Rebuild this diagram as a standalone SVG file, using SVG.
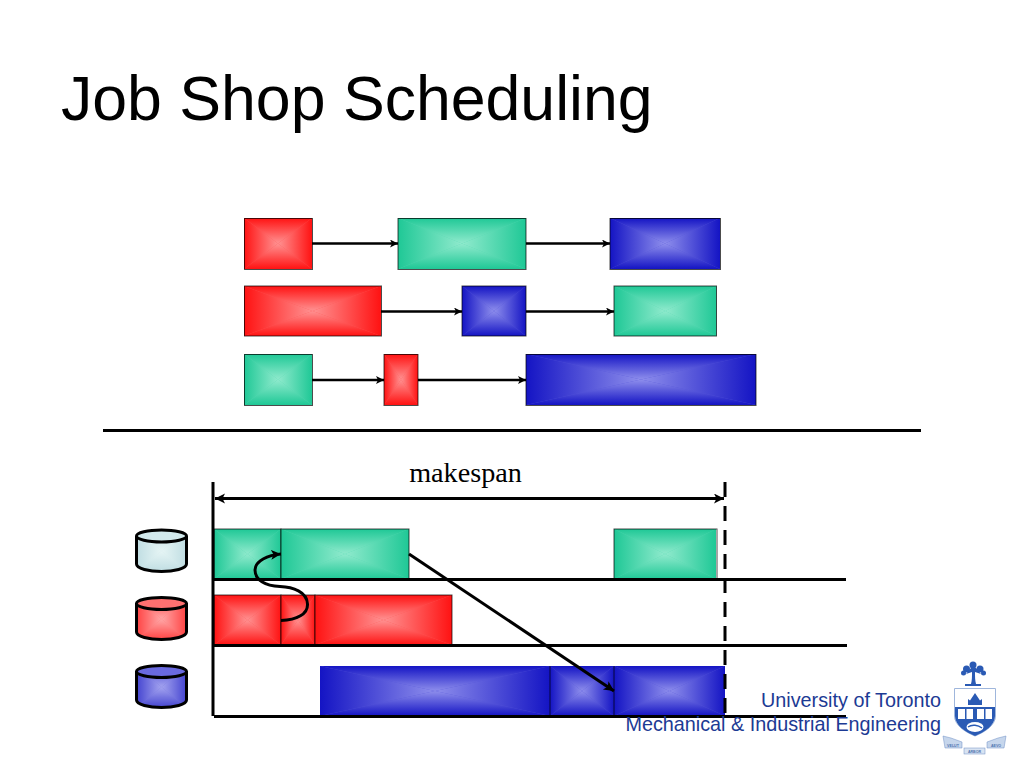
<svg xmlns="http://www.w3.org/2000/svg" width="1024" height="768" viewBox="0 0 1024 768">
<style>
.l{stroke:#000;fill:none}
.t{stroke:#000;stroke-width:2.500;fill:none}
.b{stroke:#000;stroke-opacity:.7;stroke-width:1;fill:none}
.hd{stroke:#000;stroke-width:3;fill:none}
.cy{stroke:#000;stroke-width:3;fill:none}
.ce{stroke:#000;stroke-width:3}
.wash{fill:#fff;opacity:.2}
text{font-family:"Liberation Sans",Arial,sans-serif}
.uni{font-size:19.800px;fill:#1c3a94;text-anchor:end}
.logo{fill:#2a5ab4}
.lt{font-size:3.600px;fill:#4f74b0;text-anchor:middle;font-weight:bold}
.rE{stop-color:#ff1212}.rC{stop-color:#ff9292}
.gE{stop-color:#1fc896}.gC{stop-color:#90eacd}
.bE{stop-color:#1414c4}.bC{stop-color:#8e8eec}
.cE{stop-color:#bfdde2}.cC{stop-color:#e6f5f5}
.m{stop-opacity:1}
</style>
<defs>
<marker id="a" markerUnits="userSpaceOnUse" markerWidth="10" markerHeight="10" refX="8" refY="4" orient="auto"><path d="M0 0L8 4L0 8L2 4Z" fill="#000"/></marker>
<marker id="a2" markerUnits="userSpaceOnUse" markerWidth="12" markerHeight="12" refX="10" refY="5" orient="auto-start-reverse"><path d="M0 0L10 5L0 10L2.500 5Z" fill="#000"/></marker>

<linearGradient id="rT" x1="0" y1="0" x2="0" y2="1"><stop offset="0" class="rE"/><stop offset="1" class="rC"/></linearGradient>
<linearGradient id="rB" x1="0" y1="1" x2="0" y2="0"><stop offset="0" class="rE"/><stop offset="1" class="rC"/></linearGradient>
<linearGradient id="rL" x1="0" y1="0" x2="1" y2="0"><stop offset="0" class="rE"/><stop offset="1" class="rC"/></linearGradient>
<linearGradient id="rR" x1="1" y1="0" x2="0" y2="0"><stop offset="0" class="rE"/><stop offset="1" class="rC"/></linearGradient>

<linearGradient id="gT" x1="0" y1="0" x2="0" y2="1"><stop offset="0" class="gE"/><stop offset="1" class="gC"/></linearGradient>
<linearGradient id="gB" x1="0" y1="1" x2="0" y2="0"><stop offset="0" class="gE"/><stop offset="1" class="gC"/></linearGradient>
<linearGradient id="gL" x1="0" y1="0" x2="1" y2="0"><stop offset="0" class="gE"/><stop offset="1" class="gC"/></linearGradient>
<linearGradient id="gR" x1="1" y1="0" x2="0" y2="0"><stop offset="0" class="gE"/><stop offset="1" class="gC"/></linearGradient>

<linearGradient id="bT" x1="0" y1="0" x2="0" y2="1"><stop offset="0" class="bE"/><stop offset="1" class="bC"/></linearGradient>
<linearGradient id="bB" x1="0" y1="1" x2="0" y2="0"><stop offset="0" class="bE"/><stop offset="1" class="bC"/></linearGradient>
<linearGradient id="bL" x1="0" y1="0" x2="1" y2="0"><stop offset="0" class="bE"/><stop offset="1" class="bC"/></linearGradient>
<linearGradient id="bR" x1="1" y1="0" x2="0" y2="0"><stop offset="0" class="bE"/><stop offset="1" class="bC"/></linearGradient>

<linearGradient id="cT" x1="0" y1="0" x2="0" y2="1"><stop offset="0" class="cE"/><stop offset="1" class="cC"/></linearGradient>
<linearGradient id="cB" x1="0" y1="1" x2="0" y2="0"><stop offset="0" class="cE"/><stop offset="1" class="cC"/></linearGradient>
<linearGradient id="cL" x1="0" y1="0" x2="1" y2="0"><stop offset="0" class="cE"/><stop offset="1" class="cC"/></linearGradient>
<linearGradient id="cR" x1="1" y1="0" x2="0" y2="0"><stop offset="0" class="cE"/><stop offset="1" class="cC"/></linearGradient>

<symbol id="R" viewBox="0 0 100 100" preserveAspectRatio="none"><rect width="100" height="100" fill="#ff5050"/><polygon points="0,0 100,0 50,50" fill="url(#rT)"/><polygon points="0,100 100,100 50,50" fill="url(#rB)"/><polygon points="0,0 0,100 50,50" fill="url(#rL)"/><polygon points="100,0 100,100 50,50" fill="url(#rR)"/></symbol>
<symbol id="G" viewBox="0 0 100 100" preserveAspectRatio="none"><rect width="100" height="100" fill="#50d8b0"/><polygon points="0,0 100,0 50,50" fill="url(#gT)"/><polygon points="0,100 100,100 50,50" fill="url(#gB)"/><polygon points="0,0 0,100 50,50" fill="url(#gL)"/><polygon points="100,0 100,100 50,50" fill="url(#gR)"/></symbol>
<symbol id="B" viewBox="0 0 100 100" preserveAspectRatio="none"><rect width="100" height="100" fill="#5050d8"/><polygon points="0,0 100,0 50,50" fill="url(#bT)"/><polygon points="0,100 100,100 50,50" fill="url(#bB)"/><polygon points="0,0 0,100 50,50" fill="url(#bL)"/><polygon points="100,0 100,100 50,50" fill="url(#bR)"/></symbol>
<symbol id="C" viewBox="0 0 100 100" preserveAspectRatio="none"><rect width="100" height="100" fill="#d2e9ec"/><polygon points="0,0 100,0 50,50" fill="url(#cT)"/><polygon points="0,100 100,100 50,50" fill="url(#cB)"/><polygon points="0,0 0,100 50,50" fill="url(#cL)"/><polygon points="100,0 100,100 50,50" fill="url(#cR)"/></symbol>

<clipPath id="cy1"><path d="M136.500 536V564C136.500 568.500 149 571.500 161.500 571.500C174 571.500 186.500 568.500 186.500 564V536Z"/></clipPath>
<clipPath id="cy2"><path d="M136.500 603V632C136.500 636.500 149 639.500 161.500 639.500C174 639.500 186.500 636.500 186.500 632V603Z"/></clipPath>
<clipPath id="cy3"><path d="M136.500 671V700C136.500 704.500 149 707.500 161.500 707.500C174 707.500 186.500 704.500 186.500 700V671Z"/></clipPath>
</defs>

<text id="title" x="61" y="120" font-size="62.600" fill="#000">Job Shop Scheduling</text>

<g id="job-1-red"><use href="#R" x="244" y="218" width="68" height="51"/><rect class="b" x="244.500" y="218.500" width="68" height="51"/></g>
<g id="job-1-green"><use href="#G" x="398" y="218" width="128" height="51"/><rect class="b" x="398" y="218.500" width="128" height="51"/></g>
<g id="job-1-blue"><use href="#B" x="610" y="218" width="110" height="51"/><rect class="b" x="610" y="218.500" width="110.500" height="51"/></g>
<g id="job-2-red"><use href="#R" x="244" y="286" width="137" height="50"/><rect class="b" x="244.500" y="286" width="137" height="50"/></g>
<g id="job-2-blue"><use href="#B" x="462" y="286" width="64" height="50"/><rect class="b" x="462" y="286" width="64" height="50"/></g>
<g id="job-2-green"><use href="#G" x="614" y="286" width="102.500" height="50"/><rect class="b" x="614" y="286" width="102.500" height="50"/></g>
<g id="job-3-green"><use href="#G" x="244" y="354" width="68" height="51"/><rect class="b" x="244.500" y="354.500" width="68" height="51"/></g>
<g id="job-3-red"><use href="#R" x="384" y="354" width="34" height="51"/><rect class="b" x="384" y="354.500" width="34" height="51"/></g>
<g id="job-3-blue"><use href="#B" x="526" y="354" width="230" height="51"/><rect class="b" x="526" y="354.500" width="230" height="51"/></g>

<g id="sep"><path d="M103 430.500H921" class="hd"/></g>
<text id="makespan" x="465.500" y="482" font-size="28.200" text-anchor="middle" style="font-family:'Liberation Serif','Times New Roman',serif">makespan</text>

<g id="m1-1"><use href="#G" x="214" y="529" width="67" height="50"/><rect class="b" x="214" y="529" width="67" height="50"/></g>
<g id="m1-2"><use href="#G" x="281" y="529" width="128" height="50"/><rect class="b" x="281" y="529" width="128" height="50"/></g>
<g id="m1-3"><use href="#G" x="614" y="529" width="102" height="50"/><rect class="b" x="614" y="529" width="103" height="50"/></g>
<g id="m2-1"><use href="#R" x="214" y="595" width="67" height="50"/><rect class="b" x="214" y="595" width="67" height="50"/></g>
<g id="m2-2"><use href="#R" x="281" y="595" width="34" height="50"/><rect class="b" x="281" y="595" width="34" height="50"/></g>
<g id="m2-3"><use href="#R" x="315" y="595" width="137" height="50"/><rect class="b" x="315" y="595" width="137" height="50"/></g>
<g id="m3-1"><use href="#B" x="320" y="666" width="230" height="50"/></g>
<g id="m3-2"><use href="#B" x="550" y="666" width="64" height="50"/><path class="b" d="M550 666V716"/></g>
<g id="m3-3"><use href="#B" x="614" y="666" width="111" height="50"/><path class="b" d="M614 666V716"/></g>

<g id="cyl-1"><g clip-path="url(#cy1)"><use href="#C" x="136" y="530" width="51" height="42"/></g><path class="cy" d="M136.500 536V564C136.500 568.500 149 571.500 161.500 571.500C174 571.500 186.500 568.500 186.500 564V536"/><ellipse class="ce" cx="161.500" cy="536" rx="25" ry="6" fill="#d2e9ec"/></g>
<g id="cyl-2"><g clip-path="url(#cy2)"><use href="#R" x="136" y="598" width="51" height="42"/><rect class="wash" x="136" y="598" width="51" height="42"/></g><path class="cy" d="M136.500 603V632C136.500 636.500 149 639.500 161.500 639.500C174 639.500 186.500 636.500 186.500 632V603"/><ellipse class="ce" cx="161.500" cy="603.500" rx="25" ry="6" fill="#ff7070"/></g>
<g id="cyl-3"><g clip-path="url(#cy3)"><use href="#B" x="136" y="666" width="51" height="42"/><rect class="wash" x="136" y="666" width="51" height="42"/></g><path class="cy" d="M136.500 671V700C136.500 704.500 149 707.500 161.500 707.500C174 707.500 186.500 704.500 186.500 700V671"/><ellipse class="ce" cx="161.500" cy="671.500" rx="25" ry="6" fill="#6a6ae0"/></g>

<g id="connectors">
<path class="t" d="M312 243.500H398" marker-end="url(#a)"/>
<path class="t" d="M526 243.500H610" marker-end="url(#a)"/>
<path class="t" d="M381 311.500H462" marker-end="url(#a)"/>
<path class="t" d="M526 311.500H614" marker-end="url(#a)"/>
<path class="t" d="M312 380H384" marker-end="url(#a)"/>
<path class="t" d="M418 380H526" marker-end="url(#a)"/>
<path class="hd" d="M215 498.500H724" marker-start="url(#a2)" marker-end="url(#a2)"/>
<path class="hd" d="M213 482V716"/>
<path class="hd" d="M214 579.500H846"/>
<path class="hd" d="M214 645.500H847"/>
<path class="hd" d="M214 716.500H846"/>
<path class="hd" d="M725 482V716" stroke-dasharray="15 9"/>
<path class="hd" d="M409 554L614 691" marker-end="url(#a2)"/>
<path class="hd" d="M281 620.500C297 620 308 614 307.500 604C307 592 293 587 280 586.500C265 586 255 580 255 570C255 561 268 555 281 554" marker-end="url(#a2)"/>
</g>

<text class="uni" x="941" y="707">University of Toronto</text>
<text class="uni" x="941" y="731">Mechanical &amp; Industrial Engineering</text>

<g id="logo">
<circle class="logo" cx="973" cy="665" r="3.500"/><circle class="logo" cx="966.500" cy="669" r="3.500"/><circle class="logo" cx="980" cy="669" r="3.500"/><circle class="logo" cx="963.500" cy="673" r="2.500"/><circle class="logo" cx="983.500" cy="673" r="2.500"/>
<path class="logo" d="M971 684C972 680 972 677 972 672L966 674L971 668H976L981 674L975 672C975 677 975 680 976 684H981V686H965V684Z"/>
<path d="M954.500 688.500H995.500V716C995.500 725 985 732 975 736C965 732 954.500 725 954.500 716Z" fill="#fff" stroke="#9fb6dc" stroke-width="1"/>
<path class="logo" d="M955 707H995V716C995 725 985 732 975 736C965 732 955 725 955 716Z"/>
<path class="logo" d="M968 705V699L970 700.500L975 693L980 700.500L982 699V705Z"/>
<path d="M958 709H973V719H958ZM977 709H992V719H977Z" fill="#fff"/>
<path class="logo" d="M965 709h1.500v10h-1.500zM984 709h1.500v10h-1.500z"/>
<ellipse cx="975" cy="727" rx="8.500" ry="5" fill="#fff"/>
<path d="M968 727C972 724 978 725 982 728" fill="none" stroke="#2a5ab4" stroke-width="1.500"/>
<path d="M943 736L951 738L962 742V748H945Z" fill="#c6d6ec" stroke="#6f8fc4" stroke-width=".5"/>
<path d="M1006 736L998 738L987 742V748H1004Z" fill="#c6d6ec" stroke="#6f8fc4" stroke-width=".5"/>
<rect x="964" y="748" width="21" height="6" fill="#d8e3f2" stroke="#6f8fc4" stroke-width=".5"/>
<text class="lt" x="953" y="746.500">VELUT</text>
<text class="lt" x="974.500" y="752.500">ARBOR</text>
<text class="lt" x="996" y="746.500">AEVO</text>
</g>
</svg>
